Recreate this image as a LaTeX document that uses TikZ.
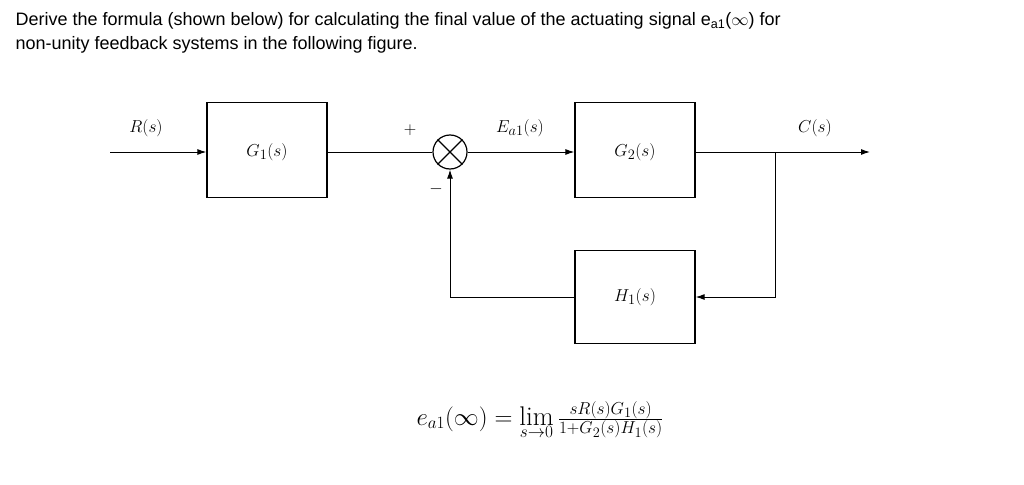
\documentclass[tikz,border=0pt]{standalone}
\usepackage{fontspec}
\setsansfont{Liberation Sans}
\usetikzlibrary{arrows.meta}
\begin{document}
\begin{tikzpicture}[x=1pt,y=-1pt,
  blk/.style={draw,line width=1.3pt,minimum width=120pt,minimum height=95pt},
  wire/.style={line width=1pt},
  arr/.style={wire,-{Latex[length=9pt,width=6pt]}},
  lbl/.style={font=\fontsize{19}{22}\selectfont}]
\useasboundingbox (0,0) rectangle (1024,484);
\node[anchor=base west,font=\sffamily\fontsize{18}{21}\selectfont,align=left] (t1) at (12,26) {Derive the formula (shown below) for calculating the final value of the actuating signal e\textsubscript{a1}($\infty$) for};
\node[anchor=base west,font=\sffamily\fontsize{18}{21}\selectfont] (t2) at (12,50) {non-unity feedback systems in the following figure.};
\node[blk] (g1) at (267,150) {};
\node[lbl] at (267,152) {$G_1(s)$};
\node[blk] (g2) at (635,150) {};
\node[lbl] at (635,152) {$G_2(s)$};
\node[blk,minimum height=93pt] (h1) at (635,297) {};
\node[lbl] at (635,297) {$H_1(s)$};
\node[draw,circle,line width=1.2pt,minimum size=34pt,inner sep=0pt] (sum) at (450,152) {};
\draw[line width=1.2pt] (sum.north west) -- (sum.south east) (sum.north east) -- (sum.south west);
\coordinate (in) at (110,152);
\coordinate (out) at (870,152);
\coordinate (br) at (775,152);
\coordinate (fb) at (450,297);
\draw[arr] (in) -- (g1.west |- in);
\draw[wire] (g1.east |- sum) -- (sum.west);
\draw[arr] (sum.east) -- (g2.west |- sum);
\draw[arr] (g2.east |- sum) -- (out);
\draw[arr] (br) |- (h1.east);
\draw[arr] (h1.west) -- (fb) -- (sum.south);
\node[lbl] at (146,128) {$R(s)$};
\node[lbl] at (520,128) {$E_{a1}(s)$};
\node[lbl] at (815,128) {$C(s)$};
\node[font=\fontsize{16}{18}\selectfont] at (410,130) {$+$};
\node[font=\fontsize{16}{18}\selectfont] at (436,189) {$-$};
\node[font=\fontsize{27}{32}\selectfont] (f) at (540,420) {$e_{a1}(\infty)=\lim\limits_{s\to 0}\frac{sR(s)G_1(s)}{1+G_2(s)H_1(s)}$};
\end{tikzpicture}
\end{document}
